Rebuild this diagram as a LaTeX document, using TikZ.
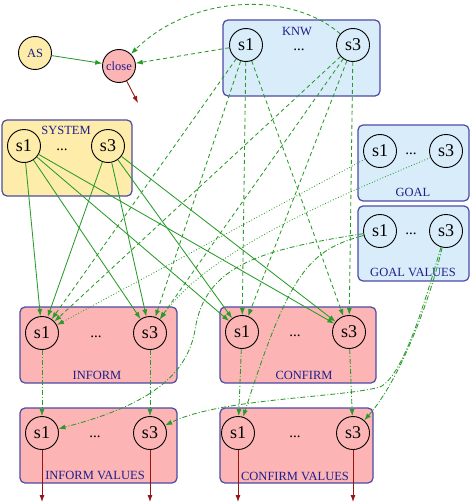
\documentclass[tikz,border=0pt]{standalone}
\usepackage{fontspec}
\setmainfont{Liberation Serif}
\usetikzlibrary{arrows.meta}
\definecolor{edgegreen}{RGB}{40,155,40}
\definecolor{outred}{RGB}{150,20,20}
\definecolor{boxblue}{RGB}{75,75,165}
\definecolor{textblue}{RGB}{30,30,140}
\definecolor{pinkfill}{RGB}{252,180,180}
\definecolor{bluefill}{RGB}{216,236,250}
\definecolor{yellowfill}{RGB}{253,236,170}
\begin{document}
\begin{tikzpicture}[
        x=1pt, y=-1pt,
        state/.style={draw, circle, minimum size=33pt, inner sep=0pt, line width=0.9pt, font=\fontsize{18}{20}\selectfont},
        cluster/.style={draw=boxblue, line width=1.2pt, rounded corners=5pt},
        clabel/.style={text=textblue, inner sep=1pt, font=\fontsize{12.5}{14}\selectfont},
        ellip/.style={inner sep=1pt, font=\fontsize{15}{16}\selectfont},
        sysedge/.style={->, draw=edgegreen, line width=0.85pt},
        knwedge/.style={sysedge, dash pattern=on 4pt off 3pt},
        goaledge/.style={sysedge, dotted},
        valedge/.style={sysedge, dash pattern=on 5pt off 2pt on 1pt off 2pt},
        outarrow/.style={->, draw=outred, line width=0.9pt},
        >={Latex[length=7pt,width=5pt]}
    ]
        \useasboundingbox (0,0) rectangle (474,503);
        % clusters
        \draw[cluster, fill=bluefill] (223,20) rectangle (380,96);
        \draw[cluster, fill=yellowfill] (2,120) rectangle (132,196);
        \draw[cluster, fill=bluefill] (358,125) rectangle (469,201);
        \draw[cluster, fill=bluefill] (358,206) rectangle (469,281);
        \draw[cluster, fill=pinkfill] (20,307) rectangle (177,383);
        \draw[cluster, fill=pinkfill] (220,307) rectangle (376,383);
        \draw[cluster, fill=pinkfill] (20,408) rectangle (177,483);
        \draw[cluster, fill=pinkfill] (220,408) rectangle (373,483);
        \node[clabel] (knw) at (297,32) {KNW};
        \node[clabel] (system) at (66,130) {SYSTEM};
        \node[clabel] (goal) at (413,192) {GOAL};
        \node[clabel] (goalval) at (413,272) {GOAL VALUES};
        \node[clabel] (inform) at (97,375) {INFORM};
        \node[clabel] (confirm) at (304,375) {CONFIRM};
        \node[clabel] (informval) at (95,475) {INFORM VALUES};
        \node[clabel] (confirmval) at (295,476) {CONFIRM VALUES};
        % states
        \node[state, fill=yellowfill, font=\fontsize{12.5}{14}\selectfont, text=textblue] (as) at (35,53) {AS};
        \node[state, fill=pinkfill, font=\fontsize{12.5}{14}\selectfont, text=textblue] (close) at (119,66) {close};
        \node[state] (k1) at (246,45) {s1};
        \node[state] (k3) at (353,45) {s3};
        \node[ellip] (kd) at (299,50) {...};
        \node[state] (sy1) at (24,146) {s1};
        \node[state] (sy3) at (108,146) {s3};
        \node[ellip] (syd) at (62,150) {...};
        \node[state] (go1) at (380,151) {s1};
        \node[state] (go3) at (446,151) {s3};
        \node[ellip] (god) at (411,154) {...};
        \node[state] (gv1) at (380,231) {s1};
        \node[state] (gv3) at (446,231) {s3};
        \node[ellip] (gvd) at (411,234) {...};
        \node[state] (in1) at (42,333) {s1};
        \node[state] (in3) at (150,333) {s3};
        \node[ellip] (ind) at (96,337) {...};
        \node[state] (co1) at (242,332) {s1};
        \node[state] (co3) at (349,332) {s3};
        \node[ellip] (cod) at (295,336) {...};
        \node[state] (iv1) at (42,433) {s1};
        \node[state] (iv3) at (150,433) {s3};
        \node[ellip] (ivd) at (95,437) {...};
        \node[state] (cv1) at (238,433) {s1};
        \node[state] (cv3) at (353,433) {s3};
        \node[ellip] (cvd) at (295,437) {...};
        \coordinate (closeout) at (138,103);
        \coordinate (iv1out) at (42,502);
        \coordinate (iv3out) at (150,502);
        \coordinate (cv1out) at (238,502);
        \coordinate (cv3out) at (353,502);
        % AS and KNW to close
        \draw[sysedge] (as) -- (close);
        \draw[knwedge] (k1) -- (close);
        \draw[knwedge] (k3) .. controls (290,-10) and (190,-5) .. (close);
        \draw[outarrow] (close) -- (closeout);
        % SYSTEM
        \draw[sysedge] (sy1) -- (in1);
        \draw[sysedge] (sy1) -- (in3);
        \draw[sysedge] (sy1) -- (co1);
        \draw[sysedge] (sy1) -- (co3);
        \draw[sysedge] (sy3) -- (in1);
        \draw[sysedge] (sy3) -- (in3);
        \draw[sysedge] (sy3) -- (co1);
        \draw[sysedge] (sy3) -- (co3);
        % KNW
        \draw[knwedge] (k1) -- (in1);
        \draw[knwedge] (k1) -- (in3);
        \draw[knwedge] (k1) -- (co1);
        \draw[knwedge] (k1) -- (co3);
        \draw[knwedge] (k3) -- (in1);
        \draw[knwedge] (k3) -- (in3);
        \draw[knwedge] (k3) -- (co1);
        \draw[knwedge] (k3) -- (co3);
        % GOAL
        \draw[goaledge] (go1) -- (in1);
        \draw[goaledge] (go3) .. controls (330,200) and (210,250) .. (in3);
        % GOAL VALUES
        \draw[valedge] (gv1) .. controls (260,250) and (205,265) .. (195,330) .. controls (187,375) and (150,405) .. (iv1);
        \draw[valedge] (gv1) .. controls (310,250) and (290,270) .. (cv1);
        \draw[valedge] (gv3) .. controls (428,290) and (405,375) .. (380,387) .. controls (340,398) and (220,398) .. (iv3);
        \draw[valedge] (gv3) .. controls (430,300) and (400,380) .. (cv3);
        % values
        \draw[valedge] (in1) -- (iv1);
        \draw[valedge] (in3) -- (iv3);
        \draw[valedge] (co1) -- (cv1);
        \draw[valedge] (co3) -- (cv3);
        \draw[outarrow] (iv1) -- (iv1out);
        \draw[outarrow] (iv3) -- (iv3out);
        \draw[outarrow] (cv1) -- (cv1out);
        \draw[outarrow] (cv3) -- (cv3out);
    \end{tikzpicture}
\end{document}
